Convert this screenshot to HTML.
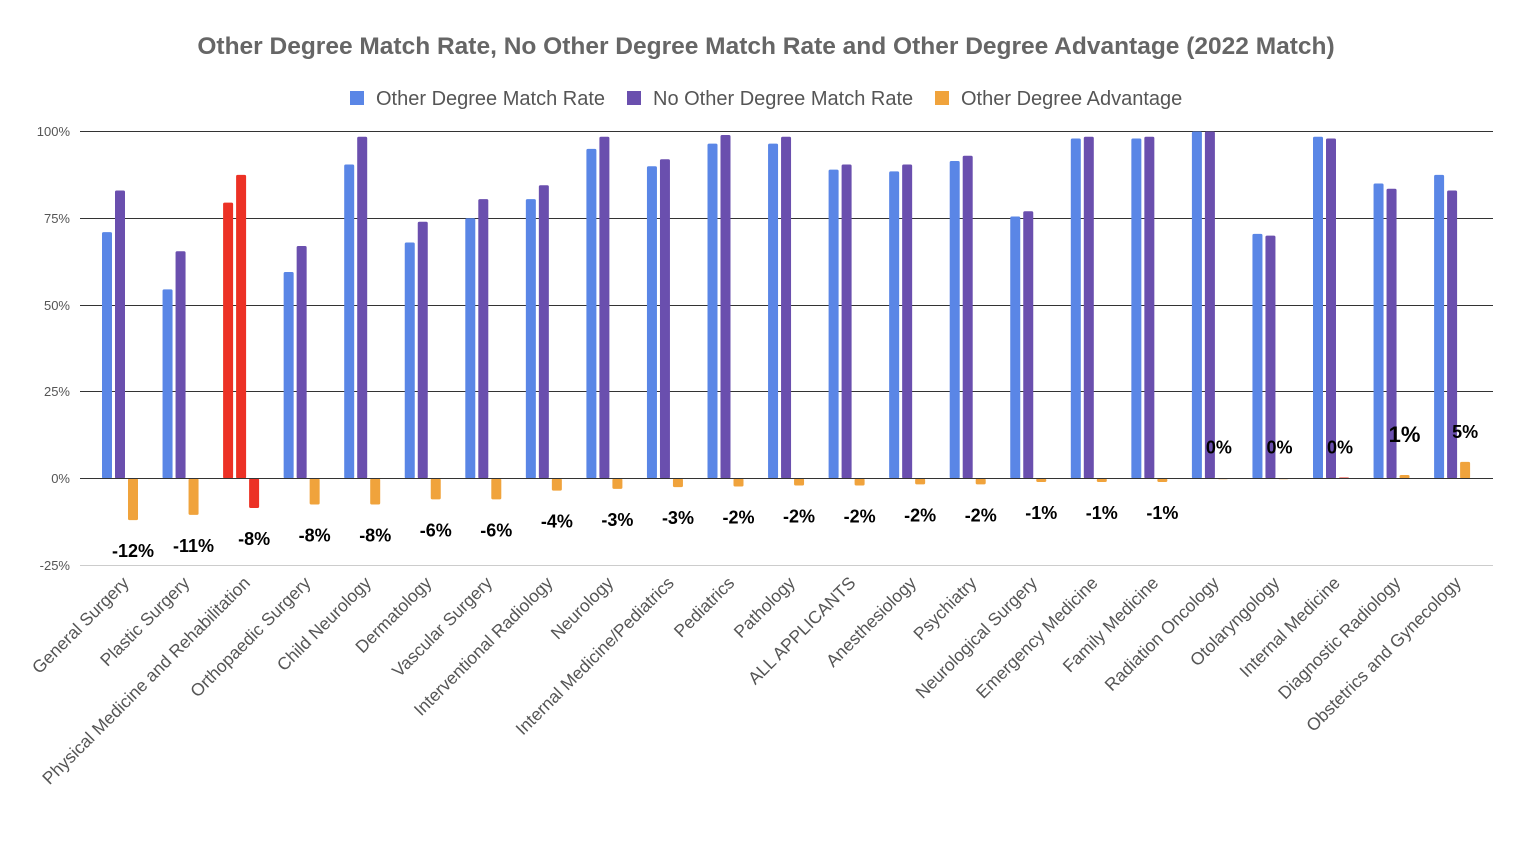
<!DOCTYPE html>
<html><head><meta charset="utf-8"><style>
html,body{margin:0;padding:0;background:#fff;}
svg{display:block;font-family:"Liberation Sans",Arial,sans-serif;}
</style></head><body>
<svg width="1536" height="860" xmlns="http://www.w3.org/2000/svg">
<text x="766" y="54" text-anchor="middle" font-size="24.5" font-weight="bold" fill="#666">Other Degree Match Rate, No Other Degree Match Rate and Other Degree Advantage (2022 Match)</text>
<rect x="350" y="91" width="14" height="14" fill="#5a86e6"/><text x="376" y="105" font-size="20" fill="#555">Other Degree Match Rate</text>
<rect x="627" y="91" width="14" height="14" fill="#6a4fae"/><text x="653" y="105" font-size="20" fill="#555">No Other Degree Match Rate</text>
<rect x="935" y="91" width="14" height="14" fill="#f0a33c"/><text x="961" y="105" font-size="20" fill="#555">Other Degree Advantage</text>
<g font-size="13" fill="#555" text-anchor="end">
<text x="70" y="136">100%</text><text x="70" y="223">75%</text><text x="70" y="310">50%</text><text x="70" y="396">25%</text><text x="70" y="483">0%</text><text x="70" y="570">-25%</text>
</g>
<g stroke="#333" stroke-width="1">
<line x1="80" y1="131.5" x2="1493" y2="131.5"/><line x1="80" y1="218.5" x2="1493" y2="218.5"/><line x1="80" y1="305.5" x2="1493" y2="305.5"/><line x1="80" y1="391.5" x2="1493" y2="391.5"/>
</g>
<line x1="80" y1="565.5" x2="1493" y2="565.5" stroke="#ccc"/>
<g id="bars"></g>
<line x1="80" y1="478.5" x2="1493" y2="478.5" stroke="#333"/>
<g id="labels"></g>
<script>
var d=[["General Surgery",71,83,-12],["Plastic Surgery",54.5,65.5,-11],["Physical Medicine and Rehabilitation",79.5,87.5,-8],["Orthopaedic Surgery",59.5,67,-8],["Child Neurology",90.5,98.5,-8],["Dermatology",68,74,-6],["Vascular Surgery",75,80.5,-6],["Interventional Radiology",80.5,84.5,-4],["Neurology",95,98.5,-3],["Internal Medicine/Pediatrics",90,92,-3],["Pediatrics",96.5,99,-2],["Pathology",96.5,98.5,-2],["ALL APPLICANTS",89,90.5,-2],["Anesthesiology",88.5,90.5,-2],["Psychiatry",91.5,93,-2],["Neurological Surgery",75.5,77,-1],["Emergency Medicine",98,98.5,-1],["Family Medicine",98,98.5,-1],["Radiation Oncology",100,100,0],["Otolaryngology",70.5,70,0],["Internal Medicine",98.5,98,0],["Diagnostic Radiology",85,83.5,1],["Obstetrics and Gynecology",87.5,83,5]];
var adv=[-12,-11,-8,-8,-8,-6,-6,-4,-3,-3,-2,-2,-2,-2,-2,-1,-1,-1,0,0,0,1,5];
var advv=[-12,-10.5,-8.5,-7.5,-7.5,-6,-6,-3.5,-3,-2.5,-2.3,-2,-2,-1.7,-1.7,-1,-1,-1,0,0,0.3,1,4.8];
var NS="http://www.w3.org/2000/svg",b=document.getElementById("bars"),l=document.getElementById("labels");
function r(x,y,w,h,c){var e=document.createElementNS(NS,"rect");e.setAttribute("x",x);e.setAttribute("y",y);e.setAttribute("width",w);e.setAttribute("height",Math.max(h,0.8));e.setAttribute("fill",c);e.setAttribute("rx",1.5);b.appendChild(e);}
function t(x,y,s,sz,wt,fill,anc,rot){var e=document.createElementNS(NS,"text");e.setAttribute("x",x);e.setAttribute("y",y);e.setAttribute("font-size",sz);if(wt)e.setAttribute("font-weight",wt);e.setAttribute("fill",fill);e.setAttribute("text-anchor",anc);if(rot)e.setAttribute("transform","rotate(-45 "+x+" "+y+")");e.textContent=s;l.appendChild(e);}
var Z=478.5,k=3.47;
d.forEach(function(v,i){var x=102+i*60.55;var red=i==2;
var cb=red?"#ec3125":"#5a86e6",cp=red?"#ec3125":"#6a4fae",co=red?"#ec3125":"#f0a33c";
r(x,Z-v[1]*k,10,v[1]*k,cb);r(x+13,Z-v[2]*k,10,v[2]*k,cp);
var a=advv[i];if(a<0)r(x+26,Z,10,-a*k,co);else r(x+26,Z-a*k,10,a*k,i==20?"#ec3125":co);
var lab=adv[i]+"%";
if(a<0)t(x+31,Z-a*k+37,lab,18,"bold","#000","middle");
else if(i==21)t(x+31,Z-a*k-33,lab,22,"bold","#000","middle");
else if(i==22)t(x+31,Z-a*k-24,lab,18,"bold","#000","middle");
else t(x+27,Z-25,lab,18,"bold","#000","middle");
t(x+28,584,v[0],17.5,null,"#555","end",true);
});
</script>
</svg>
</body></html>
